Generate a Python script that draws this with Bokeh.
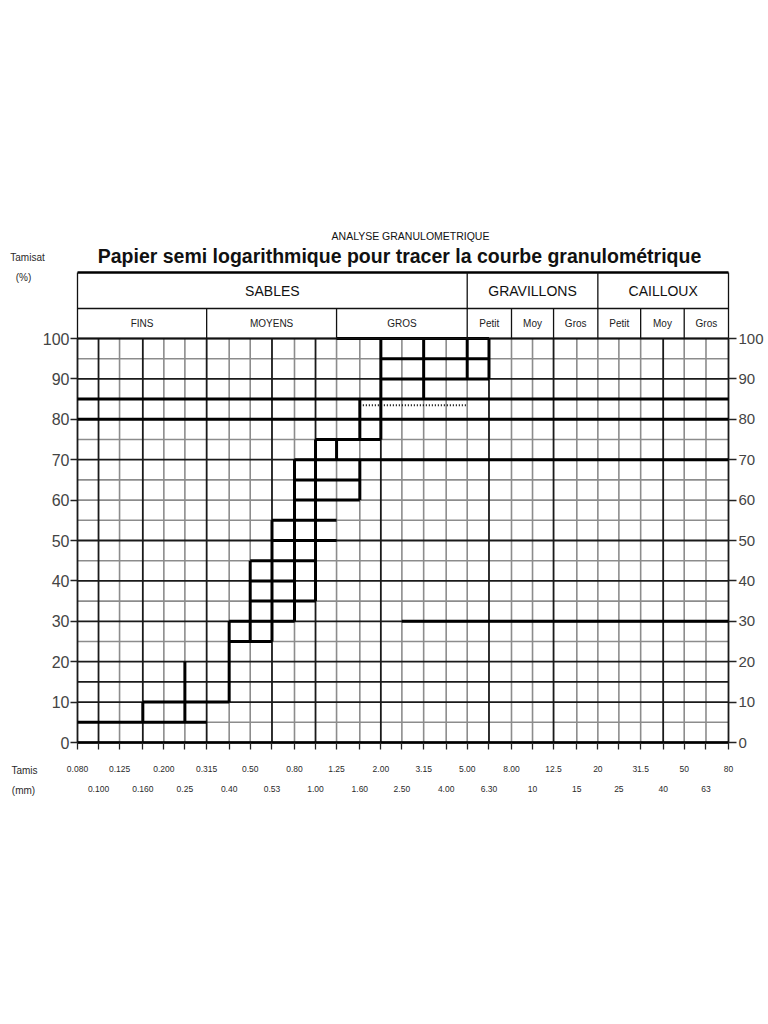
import math
from bokeh.plotting import figure
from bokeh.models import Range1d, FixedTicker, LogAxis, LinearAxis, Label
from bokeh.embed import file_html
from bokeh.resources import INLINE
from bokeh.core.properties import value

# ---------------- data ----------------
sieves = [0.08, 0.1, 0.125, 0.16, 0.2, 0.25, 0.315, 0.4, 0.5, 0.63, 0.8, 1.0,
          1.25, 1.6, 2.0, 2.5, 3.15, 4.0, 5.0, 6.3, 8.0, 10.0, 12.5, 16.0, 20.0,
          25.0, 31.5, 40.0, 50.0, 63.0, 80.0]
sieve_labels = ["0.080", "0.100", "0.125", "0.160", "0.200", "0.25", "0.315", "0.40",
                "0.50", "0.53", "0.80", "1.00", "1.25", "1.60", "2.00", "2.50", "3.15",
                "4.00", "5.00", "6.30", "8.00", "10", "12.5", "15", "20", "25", "31.5",
                "40", "50", "63", "80"]
pct_ticks = [0, 10, 20, 30, 40, 50, 60, 70, 80, 90, 100]
pct_grid = [0, 5, 10, 15, 20, 25, 30, 35, 40, 45, 50, 55, 60, 65, 70, 75, 80, 85, 90, 95, 100]
heavy_sieve_idx = [0, 1, 3, 6, 9, 11, 14, 19, 22, 27, 30]
dark_pct = [0, 10, 15, 20, 30, 40, 50, 70, 90, 100]
heavy_pct = [80, 85]

groups = ["SABLES", "GRAVILLONS", "CAILLOUX"]
group_bounds = [0.08, 5.0, 20.0, 80.0]
subgroups = ["FINS", "MOYENS", "GROS", "Petit", "Moy", "Gros", "Petit", "Moy", "Gros"]
subgroup_bounds = [0.08, 0.315, 1.25, 5.0, 8.0, 12.5, 20.0, 31.5, 50.0, 80.0]

# stepped curve traced on the paper
curve_h_pct = [5, 10, 25, 30, 35, 40, 45, 50, 55, 60, 65, 70, 75, 90, 95, 100, 30]
curve_h_from = [0.08, 0.16, 0.4, 0.4, 0.5, 0.5, 0.5, 0.63, 0.63, 0.8, 0.8, 0.8, 1.0, 2.0, 2.0, 1.25, 2.5]
curve_h_to = [0.315, 0.4, 0.63, 0.8, 1.0, 0.8, 1.0, 1.25, 1.25, 1.6, 1.6, 80.0, 2.0, 6.3, 6.3, 6.3, 80.0]
curve_v_size = [0.16, 0.25, 0.4, 0.5, 0.63, 0.8, 1.0, 1.25, 1.6, 1.6, 2.0, 3.15, 5.0, 6.3]
curve_v_from = [5, 5, 10, 25, 25, 30, 35, 70, 60, 75, 75, 85, 90, 90]
curve_v_to = [10, 20, 30, 45, 55, 70, 75, 75, 70, 85, 100, 100, 100, 100]
dotted_pct = [83.5]
dotted_from = [1.6]
dotted_to = [5.0]

# ---------------- layout helpers ----------------
W, H = 768, 1000
PX_DEC = 217.0      # pixels per decade
PX_PCT = 4.04       # pixels per percent
x0_page, y0_page = 77, 742


def px_to_x(px):
    return 0.08 * 10 ** ((px - x0_page) / PX_DEC)


def py_to_y(py):
    return (y0_page - py) / PX_PCT


p = figure(x_axis_type="log", x_axis_location=None, y_axis_location=None,
           x_range=Range1d(px_to_x(0), px_to_x(W)),
           y_range=Range1d(py_to_y(H), py_to_y(0)),
           width=W, height=H, min_border=0,
           min_border_left=0, min_border_right=0, min_border_top=0, min_border_bottom=0,
           output_backend="svg", toolbar_location=None)
p.outline_line_color = None
p.grid.visible = False
p.background_fill_color = "white"
p.border_fill_color = "white"

FONT = "Liberation Sans"
TXT = "#2a2a2a"

# ---- axes (fixed on the paper's edges) ----
ya = LinearAxis(ticker=FixedTicker(ticks=pct_ticks, minor_ticks=[]), fixed_location=sieves[0])
ya.axis_line_color = None
ya.major_tick_in = 0
ya.major_tick_out = 7
ya.major_tick_line_color = "#222222"
ya.major_tick_line_width = 1.5
ya.major_label_standoff = 1
ya.major_label_text_font = FONT
ya.major_label_text_font_size = "16px"
ya.major_label_text_color = "#444444"
p.add_layout(ya, "left")

yr = LinearAxis(ticker=FixedTicker(ticks=pct_ticks, minor_ticks=[]), fixed_location=sieves[-1])
yr.axis_line_color = None
yr.major_tick_in = 0
yr.major_tick_out = 8
yr.major_tick_line_color = "#222222"
yr.major_tick_line_width = 1.5
yr.major_label_standoff = 2
yr.major_label_text_font = FONT
yr.major_label_text_font_size = "15px"
yr.major_label_text_color = "#444444"
p.add_layout(yr, "right")

even = sieves[0::2]
odd = sieves[1::2]
overrides = {s: l for s, l in zip(sieves, sieve_labels)}

xa = LogAxis(ticker=FixedTicker(ticks=even, minor_ticks=odd), fixed_location=0)
xa.axis_line_color = None
xa.major_tick_in = 0
xa.major_tick_out = 7
xa.minor_tick_in = 0
xa.minor_tick_out = 7
xa.major_tick_line_color = "#222222"
xa.minor_tick_line_color = "#222222"
xa.major_tick_line_width = 1.3
xa.minor_tick_line_width = 1.3
xa.major_label_overrides = {s: overrides[s] for s in even}
xa.major_label_standoff = 16
xa.major_label_text_font = FONT
xa.major_label_text_font_size = "8.5px"
xa.major_label_text_color = TXT
p.add_layout(xa, "below")

xb = LogAxis(ticker=FixedTicker(ticks=odd, minor_ticks=[]), fixed_location=0)
xb.axis_line_color = None
xb.major_tick_in = 0
xb.major_tick_out = 0
xb.major_tick_line_color = None
xb.major_label_overrides = {s: overrides[s] for s in odd}
xb.major_label_standoff = 43
xb.major_label_text_font = FONT
xb.major_label_text_font_size = "8.5px"
xb.major_label_text_color = TXT
p.add_layout(xb, "below")

# ---- grid: vertical & horizontal lines ----
thin_v = [s for i, s in enumerate(sieves) if i not in heavy_sieve_idx]
heavy_v = [sieves[i] for i in heavy_sieve_idx]
grey_h = [v for v in pct_grid if v not in dark_pct and v not in heavy_pct]
p.segment(x0=thin_v, y0=[0] * len(thin_v), x1=thin_v, y1=[100] * len(thin_v),
          line_color="#8c8c8c", line_width=1.6)
p.segment(x0=[sieves[0]] * len(grey_h), y0=grey_h, x1=[sieves[-1]] * len(grey_h), y1=grey_h,
          line_color="#8c8c8c", line_width=1.6)
p.segment(x0=heavy_v, y0=[0] * len(heavy_v), x1=heavy_v, y1=[100] * len(heavy_v),
          line_color="#1a1a1a", line_width=1.8)
p.segment(x0=[sieves[0]] * len(dark_pct), y0=dark_pct, x1=[sieves[-1]] * len(dark_pct), y1=dark_pct,
          line_color="#1a1a1a", line_width=1.8)
p.segment(x0=[sieves[0]] * len(heavy_pct), y0=heavy_pct, x1=[sieves[-1]] * len(heavy_pct), y1=heavy_pct,
          line_color="#000000", line_width=3)
p.segment(x0=[sieves[0]], y0=[0], x1=[sieves[-1]], y1=[0], line_color="#000000", line_width=2.5)

# ---- stepped curve ----
p.segment(x0=curve_h_from, y0=curve_h_pct, x1=curve_h_to, y1=curve_h_pct,
          line_color="#000000", line_width=3)
p.segment(x0=curve_v_size, y0=curve_v_from, x1=curve_v_size, y1=curve_v_to,
          line_color="#000000", line_width=3)
p.segment(x0=dotted_from, y0=dotted_pct, x1=dotted_to, y1=dotted_pct,
          line_color="#000000", line_width=2, line_dash="1 2")

# ---- header table ----
row_mid = py_to_y(308)
row_top = py_to_y(272)
p.segment(x0=[sieves[0]], y0=[row_top], x1=[sieves[-1]], y1=[row_top],
          line_color="#000000", line_width=2.5)
p.segment(x0=[sieves[0], sieves[0]], y0=[row_mid, 100], x1=[sieves[-1], sieves[-1]], y1=[row_mid, 100],
          line_color="#111111", line_width=1.3)
p.segment(x0=[sieves[0], sieves[-1]], y0=[100, 100], x1=[sieves[0], sieves[-1]], y1=[row_top, row_top],
          line_color="#111111", line_width=1.3)
gdiv = group_bounds[1:-1]
p.segment(x0=gdiv, y0=[row_mid] * len(gdiv), x1=gdiv, y1=[row_top] * len(gdiv),
          line_color="#111111", line_width=1.3)
sdiv = subgroup_bounds[1:-1]
p.segment(x0=sdiv, y0=[100] * len(sdiv), x1=sdiv, y1=[row_mid] * len(sdiv),
          line_color="#111111", line_width=1.3)

gx = [math.sqrt(a * b) for a, b in zip(group_bounds[:-1], group_bounds[1:])]
p.text(x=gx, y=[(row_mid + row_top) / 2] * len(gx), text=groups,
       text_align="center", text_baseline="middle",
       text_font=value(FONT), text_font_size="14px", text_color="#111111")
sx = [math.sqrt(a * b) for a, b in zip(subgroup_bounds[:-1], subgroup_bounds[1:])]
p.text(x=sx, y=[(row_mid + 100) / 2] * len(sx), text=subgroups,
       text_align="center", text_baseline="middle",
       text_font=value(FONT), text_font_size="10px", text_color="#222222")


# ---- titles & side texts ----
def lab(txt, px, py, size, bold=False, align="center", color="#111111"):
    p.add_layout(Label(x=px_to_x(px), y=py_to_y(py), text=txt, text_align=align,
                       text_baseline="middle", text_font=FONT, text_font_size=size,
                       text_font_style="bold" if bold else "normal", text_color=color))


lab("ANALYSE GRANULOMETRIQUE", 410, 235, "10.5px")
lab("Papier semi logarithmique pour tracer la courbe granulométrique", 399, 255, "19.5px", bold=True)
lab("Tamisat", 27, 257, "10px", color=TXT)
lab("(%)", 23, 277, "10px", color=TXT)
lab("Tamis", 24, 770, "10px", color=TXT)
lab("(mm)", 23, 790, "10px", color=TXT)

open("out.html", "w").write(file_html(p, INLINE))
